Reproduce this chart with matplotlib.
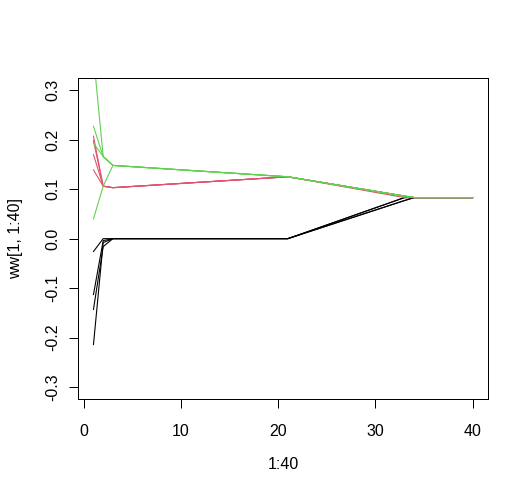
import numpy as np
import matplotlib
matplotlib.use("Agg")
import matplotlib.pyplot as plt

plt.rcParams['font.family'] = ['Liberation Sans', 'DejaVu Sans']

# knot positions (index along 1:40) and the values
x_knots = [1, 2, 3, 21, 33, 34, 40]

black_lines = [
    [-0.026, 0.000, 0.0, 0.0, 0.083, 0.083, 0.083],
    [-0.113, -0.004, 0.0, 0.0, 0.083, 0.083, 0.083],
    [-0.143, -0.016, 0.0, 0.0, 0.077, 0.083, 0.083],
    [-0.214, -0.008, 0.0, 0.0, 0.077, 0.083, 0.083],
]
red_lines = [
    [0.207, 0.106, 0.103, 0.125, 0.086, 0.083, 0.083],
    [0.198, 0.106, 0.103, 0.125, 0.086, 0.083, 0.083],
    [0.170, 0.106, 0.103, 0.125, 0.083, 0.083, 0.083],
    [0.139, 0.106, 0.103, 0.125, 0.086, 0.083, 0.083],
]
green_lines = [
    [0.370, 0.166, 0.148, 0.125, 0.086, 0.083, 0.083],
    [0.227, 0.166, 0.148, 0.125, 0.086, 0.083, 0.083],
    [0.193, 0.166, 0.148, 0.125, 0.086, 0.083, 0.083],
    [0.040, 0.106, 0.148, 0.125, 0.086, 0.083, 0.083],
]

x_ticks = [0, 10, 20, 30, 40]
y_ticks = [-0.3, -0.2, -0.1, 0.0, 0.1, 0.2, 0.3]

W, H = 528, 497
fig = plt.figure(figsize=(W / 72, H / 72), dpi=72)
ax = fig.add_axes([78.3 / W, 1 - 399 / H, (487.7 - 78.3) / W, (399 - 78.3) / H])

for y in black_lines:
    ax.plot(x_knots, y, color='black', lw=1.1)
for y in red_lines:
    ax.plot(x_knots, y, color='#DF536B', lw=1.1)
for y in green_lines:
    ax.plot(x_knots, y, color='#61D04F', lw=1.1)

ax.set_xlim(1 - 0.04 * 39, 40 + 0.04 * 39)
ax.set_ylim(-0.3 - 0.04 * 0.6, 0.3 + 0.04 * 0.6)
ax.set_xticks(x_ticks)
ax.set_yticks(y_ticks)
ax.set_xticklabels([str(t) for t in x_ticks])
ax.set_yticklabels(['-0.3', '-0.2', '-0.1', '0.0', '0.1', '0.2', '0.3'],
                   rotation=90, va='center')
ax.tick_params(direction='out', length=9, width=1, labelsize=16)
ax.tick_params(axis='x', pad=16)
ax.tick_params(axis='y', pad=9)
for s in ax.spines.values():
    s.set_linewidth(1)

ax.set_xlabel('1:40', fontsize=16, labelpad=18)
ax.set_ylabel('ww[1, 1:40]', fontsize=16, labelpad=22)

fig.savefig('out.png', dpi=72)
